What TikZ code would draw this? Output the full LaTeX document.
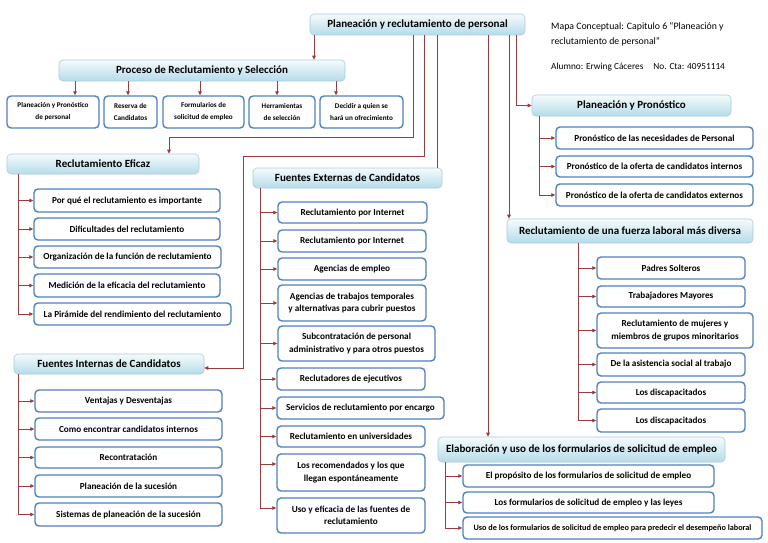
\documentclass[tikz,border=0pt]{standalone}
\usepackage{fontspec}
\setmainfont{Carlito}
\usetikzlibrary{arrows.meta}
\definecolor{conncol}{HTML}{993C3A}
\definecolor{boxblue}{HTML}{4F81BD}
\definecolor{hdrtop}{HTML}{F5FBFD}
\definecolor{hdrbot}{HTML}{B5DCE9}
\definecolor{hdrline}{HTML}{A9CCDA}
\tikzset{
  hdr/.style={draw=hdrline, line width=0.6pt, rounded corners=4pt, top color=hdrtop, bottom color=hdrbot,
    inner sep=1pt, font=\bfseries\fontsize{11}{12}\selectfont, align=center},
  cbox/.style={draw=boxblue, line width=1.4pt, rounded corners=4pt, fill=white,
    inner sep=1pt, font=\bfseries\fontsize{9.2}{12.5}\selectfont, align=center},
  sbox/.style={cbox, font=\bfseries\fontsize{7.2}{12}\selectfont},
  conn/.style={draw=conncol, line width=0.8pt, -{Triangle[length=4pt,width=3.6pt]}},
  plainconn/.style={draw=conncol, line width=0.8pt},
  sz/.style 2 args={minimum width=#1pt, minimum height=#2pt}
}
\begin{document}
\begin{tikzpicture}[x=1pt,y=-1pt]
\useasboundingbox (0,0) rectangle (768,543);

% ---------- headers ----------
\node[hdr, sz={215}{21}] (root) at (417.5,24.5) {Planeación y reclutamiento de personal};
\node[hdr, sz={286}{21}] (proc) at (202,70.5) {Proceso de Reclutamiento y Selección};
\node[hdr, sz={192}{20}] (re) at (103,164) {Reclutamiento Eficaz};
\node[hdr, sz={190}{20}] (fi) at (109,364) {Fuentes Internas de Candidatos};
\node[hdr, sz={189}{20}] (fe) at (347.5,178) {Fuentes Externas de Candidatos};
\node[hdr, sz={199}{21}] (pp) at (631.5,105.5) {Planeación y Pronóstico};
\node[hdr, sz={246}{24}] (rd) at (630,231) {Reclutamiento de una fuerza laboral más diversa};
\node[hdr, sz={287}{25}] (el) at (581.5,449.5) {Elaboración y uso de los formularios de solicitud de empleo};

% ---------- title text ----------
\node[anchor=north west, align=left, font=\fontsize{9.8}{15}\selectfont, inner sep=0pt] (title) at (551,22)
  {Mapa Conceptual: Capitulo 6 “Planeación y\\reclutamiento de personal”};
\node[anchor=west, font=\fontsize{9.3}{11}\selectfont, inner sep=0pt] (alumno) at (551,67)
  {Alumno: Erwing Cáceres\hspace{10pt}No. Cta: 40951114};

% ---------- Proceso children ----------
\node[sbox, sz={92}{32}] (p1) at (53,112) {Planeación y Pronóstico\\de personal};
\node[sbox, sz={53}{32}] (p2) at (130.5,112) {Reserva de\\Candidatos};
\node[sbox, sz={81}{32}] (p3) at (203.5,112) {Formularios de\\solicitud de empleo};
\node[sbox, sz={66}{32}] (p4) at (282,112) {Herramientas\\de selección};
\node[sbox, sz={83}{32}] (p5) at (361.5,112) {Decidir a quien se\\hará un ofrecimiento};

% ---------- Reclutamiento Eficaz children ----------
\node[cbox, sz={186}{23}] (re1) at (127,200.5) {Por qué el reclutamiento es importante};
\node[cbox, sz={186}{22}] (re2) at (127,229) {Dificultades del reclutamiento};
\node[cbox, sz={187}{22}] (re3) at (127.5,257) {Organización de la función de reclutamiento};
\node[cbox, sz={186}{23}] (re4) at (127,285.5) {Medición de la eficacia del reclutamiento};
\node[cbox, sz={197}{22}] (re5) at (132.5,314) {La Pirámide del rendimiento del reclutamiento};

% ---------- Fuentes Internas children ----------
\node[cbox, sz={187}{22}] (fi1) at (128.5,401) {Ventajas y Desventajas};
\node[cbox, sz={187}{22}] (fi2) at (128.5,429) {Como encontrar candidatos internos};
\node[cbox, sz={187}{21}] (fi3) at (128.5,457.5) {Recontratación};
\node[cbox, sz={187}{22}] (fi4) at (128.5,486) {Planeación de la sucesión};
\node[cbox, sz={187}{23}] (fi5) at (128.5,514.5) {Sistemas de planeación de la sucesión};

% ---------- Fuentes Externas children ----------
\node[cbox, sz={149}{21}] (fe1) at (352.5,212.5) {Reclutamiento por Internet};
\node[cbox, sz={148}{22}] (fe2) at (352,241) {Reclutamiento por Internet};
\node[cbox, sz={148}{22}] (fe3) at (352,269) {Agencias de empleo};
\node[cbox, sz={148}{36}] (fe4) at (352,303) {Agencias de trabajos temporales\\y alternativas para cubrir puestos};
\node[cbox, sz={157}{35}] (fe5) at (356.5,343.5) {Subcontratación de personal\\administrativo y para otros puestos};
\node[cbox, sz={148}{22}] (fe6) at (351,379) {Reclutadores de ejecutivos};
\node[cbox, sz={167}{22}] (fe7) at (360.5,408) {Servicios de reclutamiento por encargo};
\node[cbox, sz={148}{21}] (fe8) at (351,436.5) {Reclutamiento en universidades};
\node[cbox, sz={148}{37}] (fe9) at (351,472.5) {Los recomendados y los que\\llegan espontáneamente};
\node[cbox, sz={148}{35}] (fe10) at (351,515.5) {Uso y eficacia de las fuentes de\\reclutamiento};

% ---------- Planeación y Pronóstico children ----------
\node[cbox, sz={197}{22}] (pp1) at (654.5,138) {Pronóstico de las necesidades de Personal};
\node[cbox, sz={197}{21}] (pp2) at (654.5,166.5) {Pronóstico de la oferta de candidatos internos};
\node[cbox, sz={197}{22}] (pp3) at (654.5,195) {Pronóstico de la oferta de candidatos externos};

% ---------- Fuerza laboral diversa children ----------
\node[cbox, sz={148}{22}] (rd1) at (671,268) {Padres Solteros};
\node[cbox, sz={148}{21}] (rd2) at (671,296.5) {Trabajadores Mayores};
\node[cbox, sz={156}{35}] (rd3) at (675,330.5) {Reclutamiento de mujeres y\\miembros de grupos minoritarios};
\node[cbox, sz={148}{23}] (rd4) at (671,364.5) {De la asistencia social al trabajo};
\node[cbox, sz={148}{21}] (rd5) at (671,392.5) {Los discapacitados};
\node[cbox, sz={148}{23}] (rd6) at (671,420.5) {Los discapacitados};

% ---------- Elaboración children ----------
\node[cbox, sz={251}{22}] (el1) at (588.5,476) {El propósito de los formularios de solicitud de empleo};
\node[cbox, sz={251}{21}] (el2) at (588.5,502.5) {Los formularios de solicitud de empleo y las leyes};
\node[cbox, sz={299}{22}, font=\bfseries\fontsize{8.2}{10}\selectfont] (el3) at (612.5,528) {Uso de los formularios de solicitud de empleo para predecir el desempeño laboral};

% ---------- coordinates for connectors ----------
\coordinate (xa) at (314,0);
\coordinate (xb) at (413,0);
\coordinate (kb) at (169,137);
\coordinate (xc) at (424,0);
\coordinate (kc) at (243,156);
\coordinate (xd) at (437,0);
\coordinate (xe) at (488,0);
\coordinate (xf) at (509,0);
\coordinate (xg) at (516,0);
\coordinate (q1) at (75,0);
\coordinate (q2) at (128,0);
\coordinate (q3) at (200,0);
\coordinate (q4) at (277,0);
\coordinate (q5) at (336,0);
\coordinate (sre) at (18,0);
\coordinate (sfi) at (18,0);
\coordinate (sfe) at (260,0);
\coordinate (spp) at (539,0);
\coordinate (srd) at (578,0);
\coordinate (sel) at (445,0);

% ---------- root connectors ----------
\draw[conn] (root.south -| xa) -- (proc.north -| xa);
\draw[conn] (root.south -| xb) |- (kb) -- (re.north -| kb);
\draw[conn] (root.south -| xc) |- (kc) |- ([yshift=-4pt]fi.east);
\draw[plainconn] (root.south -| xd) -- (fe.north -| xd);
\draw[conn] (root.south -| xe) -- (el.north -| xe);
\draw[conn] (root.south -| xf) -- (rd.north -| xf);
\draw[conn] (root.south -| xg) |- (pp.west);

% ---------- Proceso connectors ----------
\foreach \i in {1,...,5} {
  \draw[conn] (proc.south -| q\i) -- (p\i.north -| q\i);
}
% ---------- branch connectors ----------
\foreach \i in {1,...,5} {
  \draw[conn] (re.south -| sre) |- (re\i.west);
  \draw[conn] (fi.south -| sfi) |- (fi\i.west);
}
\foreach \i in {1,...,8} {
  \draw[conn] (fe.south -| sfe) |- (fe\i.west);
}
\draw[conn] (fe.south -| sfe) |- ([yshift=8.5pt]fe9.west);
\draw[conn] (fe.south -| sfe) |- ([yshift=7.5pt]fe10.west);
\foreach \i in {1,...,3} {
  \draw[conn] (pp.south -| spp) |- (pp\i.west);
  \draw[conn] (el.south -| sel) |- (el\i.west);
}
\foreach \i in {1,...,6} {
  \draw[conn] (rd.south -| srd) |- (rd\i.west);
}
\end{tikzpicture}
\end{document}
